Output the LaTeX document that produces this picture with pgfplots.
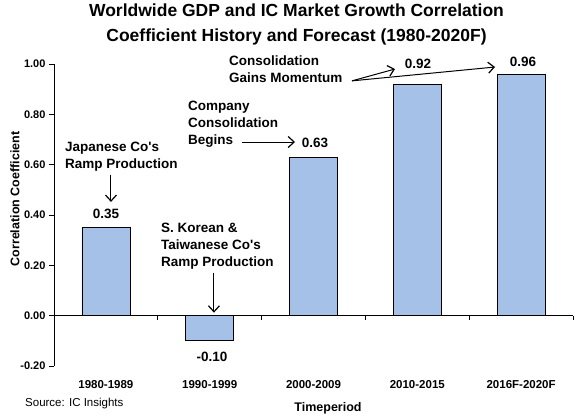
\documentclass[border=0pt]{standalone}
\usepackage{pgfplots}
\pgfplotsset{compat=1.18}
\usetikzlibrary{arrows.meta}
\usepackage{fontspec}
\setmainfont{Liberation Sans}
\definecolor{barblue}{HTML}{A5C1E7}
\begin{document}
\begin{tikzpicture}[x=1pt,y=1pt,
  ann/.style={font=\fontsize{13.5}{17}\selectfont\bfseries, align=left, inner sep=0pt},
  val/.style={font=\fontsize{13.5}{16}\selectfont\bfseries, inner sep=0pt},
  arr/.style={-{Straight Barb[length=6pt,width=11pt,line width=1.2pt]}, line width=1pt}]
\useasboundingbox (0,0) rectangle (575,415);
\begin{axis}[
  at={(54pt,49pt)}, anchor=south west,
  width=519pt, height=302pt, scale only axis,
  xmin=-0.5, xmax=4.5, ymin=-0.2, ymax=1.0,
  axis x line*=bottom, axis y line*=left,
  x axis line style={draw=none},
  y axis line style={line width=0.8pt},
  ytick={-0.2,0,0.2,0.4,0.6,0.8,1.0},
  xtick={0,1,2,3,4},
  xticklabels={1980-1989,1990-1999,2000-2009,2010-2015,2016F-2020F},
  x tick style={draw=none},
  y tick style={black, line width=0.8pt},
  tick align=outside, major tick length=5pt,
  yticklabel style={font=\fontsize{11}{12}\selectfont\bfseries,
    /pgf/number format/.cd, fixed, fixed zerofill, precision=2, assume math mode=true},
  xticklabel style={font=\fontsize{11.5}{13}\selectfont\bfseries, yshift=-6pt},
  clip=false,
]
\addplot[ybar, bar width=48pt, fill=barblue, draw=black, line width=0.8pt]
  coordinates {(0,0.35) (1,-0.10) (2,0.63) (3,0.92) (4,0.96)};
\draw[line width=0.8pt] (axis cs:-0.5,0) -- (axis cs:4.5,0);
\pgfplotsinvokeforeach{0.5,1.5,2.5,3.5,4.5}{\draw[line width=0.8pt] (axis cs:#1,0) -- ++(0pt,-4pt);}
% value labels
\node[val] at (axis cs:0,0.405) {0.35};
\node[val] at (axis cs:1.022,-0.163) {-0.10};
\node[val] at (axis cs:2.014,0.687) {0.63};
\node[val] at (axis cs:3.007,1.0) {0.92};
\node[val] at (axis cs:4.018,1.008) {0.96};
% annotations
\node[ann, anchor=west] at (axis cs:-0.394,0.631) {Japanese Co\textquotesingle s\\Ramp Production};
\draw[arr] (axis cs:0.049,0.56) -- (axis cs:0.049,0.452);
\node[ann, anchor=west] at (axis cs:0.531,0.276) {S. Korean \&\\Taiwanese Co\textquotesingle s\\Ramp Production};
\draw[arr] (axis cs:1.041,0.171) -- (axis cs:1.041,0.012);
\node[ann, anchor=west] at (axis cs:0.791,0.762) {Company\\Consolidation\\Begins};
\draw[arr] (axis cs:1.311,0.690) -- (axis cs:1.822,0.690);
\node[ann, anchor=west] at (axis cs:1.186,0.978) {Consolidation\\Gains Momentum};
\draw[arr] (axis cs:2.371,0.933) -- (axis cs:2.785,0.980);
\draw[arr] (axis cs:2.371,0.933) -- (axis cs:3.749,0.988);
\end{axis}
\node[font=\fontsize{17.5}{25}\selectfont\bfseries, align=center] at (296.5,390.5)
  {Worldwide GDP and IC Market Growth Correlation\\Coefficient History and Forecast (1980-2020F)};
\node[font=\fontsize{12.5}{14}\selectfont\bfseries, rotate=90] at (15,216) {Correlation Coefficient};
\node[font=\fontsize{12.5}{14}\selectfont\bfseries] at (328,7) {Timeperiod};
\node[font=\fontsize{11.5}{13}\selectfont, anchor=west, inner sep=0pt] at (25,11) {Source: IC Insights};
\end{tikzpicture}
\end{document}
